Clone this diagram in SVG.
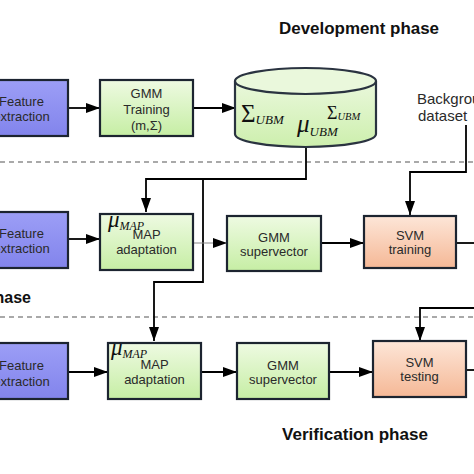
<svg xmlns="http://www.w3.org/2000/svg" width="474" height="474" viewBox="0 0 474 474">
<defs>
<linearGradient id="gPurple" x1="0" y1="0" x2="0" y2="1"><stop offset="0" stop-color="#9c9ef6"/><stop offset="1" stop-color="#8284ec"/></linearGradient>
<linearGradient id="gGreen" x1="0" y1="0" x2="0" y2="1"><stop offset="0" stop-color="#eefae2"/><stop offset="1" stop-color="#c6eea4"/></linearGradient>
<linearGradient id="gSalmon" x1="0" y1="0" x2="0" y2="1"><stop offset="0" stop-color="#fde6d8"/><stop offset="1" stop-color="#f5b896"/></linearGradient>
<linearGradient id="gCyl" x1="0" y1="0" x2="0" y2="1"><stop offset="0" stop-color="#eaf8dc"/><stop offset="1" stop-color="#cdefad"/></linearGradient>
<marker id="arr" viewBox="0 0 14 10" refX="14" refY="5" markerWidth="14" markerHeight="10" markerUnits="userSpaceOnUse" orient="auto"><path d="M0,0 L14,5 L0,10 z" fill="#000"/></marker>
</defs>
<style>
.box{stroke:#1c2430;stroke-width:2.2}
.p{fill:url(#gPurple)}
.g{fill:url(#gGreen)}
.s{fill:url(#gSalmon)}
.t{font-family:"Liberation Sans",Arial,sans-serif;font-size:13px;fill:#2a2a2a;text-anchor:middle}
.h{font-family:"Liberation Sans",Arial,sans-serif;font-size:16px;font-weight:bold;fill:#111}
.m{font-family:"Liberation Serif","Times New Roman",serif;fill:#111}
.c{fill:none;stroke:#000;stroke-width:1.8}
.d{fill:none;stroke:#555;stroke-width:1.2;stroke-dasharray:5 4}
</style>
<rect width="474" height="474" fill="#fff"/>
<g id="phase-separators">
<line class="d" x1="0" y1="162" x2="474" y2="162"/>
<line class="d" x1="0" y1="317" x2="474" y2="317"/>
</g>
<g id="connectors">
<path class="c" d="M68,108 H100" marker-end="url(#arr)"/>
<path class="c" d="M193,108 H236" marker-end="url(#arr)"/>
<path class="c" d="M306,147 V179 H146 V212" marker-end="url(#arr)"/>
<path class="c" d="M203,179 V282 H154 V341" marker-end="url(#arr)"/>
<path class="c" d="M466,125 V172 H410 V215" marker-end="url(#arr)"/>
<path class="c" d="M68,239 H100" marker-end="url(#arr)"/>
<path class="c" d="M193,243 H227" style="stroke:#888;stroke-width:1" marker-end="url(#arr)"/>
<path class="c" d="M321,243 H364" marker-end="url(#arr)"/>
<path class="c" d="M456,243 H474"/>
<path class="c" d="M68,372 H108" marker-end="url(#arr)"/>
<path class="c" d="M201,372 H237" marker-end="url(#arr)"/>
<path class="c" d="M329,372 H373" marker-end="url(#arr)"/>
<path class="c" d="M474,308 H420 V341" marker-end="url(#arr)"/>
<path class="c" d="M466,370 H474"/>
</g>
<g id="title-dev"><text class="h" x="279" y="34" textLength="160" lengthAdjust="spacingAndGlyphs">Development phase</text></g>
<g id="title-enroll"><text class="h" x="31" y="303" text-anchor="end">Enrollment phase</text></g>
<g id="title-verif"><text class="h" x="282" y="440" textLength="146" lengthAdjust="spacingAndGlyphs">Verification phase</text></g>
<g id="feature1">
<rect class="box p" x="-25" y="80" width="93" height="56"/>
<text class="t" x="21.5" y="106">Feature</text><text class="t" x="21.5" y="121">extraction</text>
</g>
<g id="gmm-training">
<rect class="box g" x="100" y="80" width="93" height="56"/>
<text class="t" x="146.5" y="98">GMM</text><text class="t" x="146.5" y="114">Training</text><text class="t" x="146.5" y="130">(m,Σ)</text>
</g>
<g id="ubm">
<path d="M235,81 V134 A70.5,13 0 0 0 376,134 V81" fill="url(#gCyl)" stroke="#2a3340" stroke-width="2.2"/>
<ellipse cx="305.5" cy="81" rx="70.5" ry="13" fill="#eaf8dc" stroke="#2a3340" stroke-width="2.2"/>
<text class="m" x="241" y="122" font-size="25">Σ<tspan font-size="13" font-style="italic" dy="2">UBM</tspan></text>
<text class="m" x="327" y="119" font-size="18">Σ<tspan font-size="10.5" font-style="italic" dy="1">UBM</tspan></text>
<text class="m" x="297" y="132" font-size="25" font-style="italic">μ<tspan font-size="13" dy="4">UBM</tspan></text>
</g>
<g id="background">
<text class="t" x="417" y="104" style="text-anchor:start;font-size:15px">Background</text>
<text class="t" x="418" y="121" style="text-anchor:start;font-size:15px">dataset</text>
</g>
<g id="feature2">
<rect class="box p" x="-25" y="212" width="93" height="56"/>
<text class="t" x="21.5" y="238">Feature</text><text class="t" x="21.5" y="253">extraction</text>
</g>
<g id="map-adapt2">
<rect class="box g" x="100" y="214" width="93" height="56"/>
<text class="m" x="108" y="227" font-size="23" font-style="italic">μ<tspan font-size="12" dy="3">MAP</tspan></text>
<text class="t" x="146.5" y="239">MAP</text><text class="t" x="146.5" y="254">adaptation</text>
</g>
<g id="gmm-sv2">
<rect class="box g" x="227" y="216" width="94" height="55"/>
<text class="t" x="274" y="242">GMM</text><text class="t" x="274" y="256">supervector</text>
</g>
<g id="svm-training">
<rect class="box s" x="364" y="216" width="92" height="52"/>
<text class="t" x="410" y="240">SVM</text><text class="t" x="410" y="254">training</text>
</g>
<g id="feature3">
<rect class="box p" x="-25" y="343" width="93" height="56"/>
<text class="t" x="21.5" y="370">Feature</text><text class="t" x="21.5" y="386">extraction</text>
</g>
<g id="map-adapt3">
<rect class="box g" x="108" y="343" width="93" height="56"/>
<text class="m" x="111" y="355" font-size="23" font-style="italic">μ<tspan font-size="12" dy="3">MAP</tspan></text>
<text class="t" x="154.5" y="369">MAP</text><text class="t" x="154.5" y="384">adaptation</text>
</g>
<g id="gmm-sv3">
<rect class="box g" x="237" y="343" width="92" height="56"/>
<text class="t" x="283" y="370">GMM</text><text class="t" x="283" y="384">supervector</text>
</g>
<g id="svm-testing">
<rect class="box s" x="373" y="341" width="93" height="56"/>
<text class="t" x="419.5" y="367">SVM</text><text class="t" x="419.5" y="381">testing</text>
</g>
</svg>
